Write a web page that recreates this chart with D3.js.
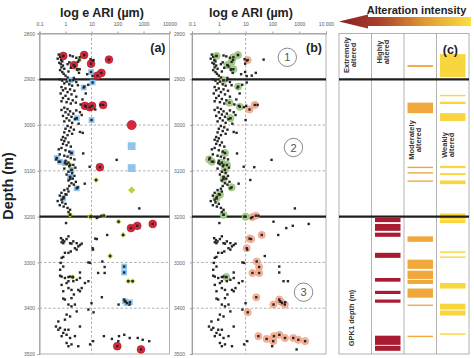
<!DOCTYPE html>
<html><head><meta charset="utf-8">
<script src="https://cdn.jsdelivr.net/npm/d3@7"></script>
<style>body{margin:0;background:#fff}svg{display:block}text{font-family:"Liberation Sans",Arial,sans-serif}</style>
</head><body><svg id="c" width="474" height="358"></svg>
<script>
// ---------- data ----------
const xTicks = [0.1, 1, 10, 100, 1000, 10000];
const xTickLabelsA = ["0.1", "1", "10", "100", "1000", "10000"];
const xTickLabelsB = ["0.1", "1", "10", "100", "1000", "10 000"];
const depthTicks = [2800, 2900, 3000, 3100, 3200, 3300, 3400, 3500];
const dashedDepths = [3000, 3100, 3300, 3400];
const boundaryDepths = [2900, 3200];
const dashedARI = 10;

// [depth (m), ARI (µm)]
const dots = [
[2846,0.55],[2851,0.62],[2855,0.5],[2858,0.68],[2861,0.75],[2864,0.58],[2867,0.66],[2870,0.8],[2874,0.7],[2877,0.9],[2880,0.62],[2884,0.75],[2888,0.85],[2892,1.0],[2896,1.2],[2848,1.5],[2850,1.9],[2853,2.6],[2856,9.2],[2859,11],[2863,1.4],[2867,1.2],[2872,2.3],[2875,1.6],[2879,2.8],[2883,1.3],[2886,3.3],[2889,6.8],[2893,11],[2897,2.1],
[2900,0.6],[2903,0.75],[2905,1.1],[2902,2.0],[2906,2.6],[2909,0.9],[2911,1.4],[2914,1.8],[2913,3.0],[2917,0.7],[2920,1.0],[2922,1.5],[2925,2.2],[2924,0.8],[2928,1.2],[2931,0.65],[2933,1.7],[2936,1.0],[2938,2.6],[2941,0.8],[2943,1.3],[2946,1.9],[2948,0.7],[2950,1.1],[2953,1.6],[2955,3.8],[2944,4.5],[2931,6.0],[2912,7.5],
[2962,0.9],[2965,1.2],[2967,0.7],[2970,1.5],[2972,1.0],[2975,2.0],[2977,1.3],[2980,0.8],[2982,1.7],[2985,1.1],[2987,2.3],[2990,1.4],[2992,0.9],[2995,1.8],[2997,3.2],[2972,3.6],[2978,4.2],[2968,2.6],
[3002,1.2],[3005,1.6],[3008,1.0],[3010,2.1],[3013,1.4],[3016,0.9],[3019,1.8],[3015,3.6],[3017,4.6],[3022,1.2],[3026,0.8],[3029,1.0],[3032,0.7],[3035,0.9],[3038,1.3],[3041,0.8],[3044,1.1],[3047,1.6],[3050,0.7],[3053,0.55],[3055,1.0],[3058,1.4],[3062,4.8],[3064,0.6],[3067,0.9],[3069,1.2],[3072,1.6],[3075,2.2],[3078,1.0],[3085,1.1],[3090,1.4],[3093,2.4],[3095,0.9],[3076,93],[3091,8.5],
[3102,1.3],[3105,1.8],[3108,1.1],[3111,2.2],[3114,1.5],[3117,1.9],[3121,1.3],[3124,2.5],[3127,1.7],[3130,2.1],[3133,1.4],[3139,1.2],[3142,0.9],[3145,1.3],[3148,0.7],[3151,1.0],[3154,0.6],[3157,0.85],[3163,0.7],[3166,0.5],[3169,0.75],[3172,1.0],[3175,0.6],[3178,0.85],[3181,1.2],[3185,1.5],[3190,1.3],[3182,690],[3128,5.5],[3203,16],
[3214,1.05],[3247,0.67],[3251,0.78],[3254,0.9],[3249,1.1],[3243,1.3],[3258,1.5],[3259,1.7],[3254,2.0],[3258,2.7],[3265,3.1],[3262,3.6],[3259,4.2],[3272,2.7],[3269,2.3],[3258,0.82],[3256,0.71],[3276,1.6],[3279,1.3],[3279,0.95],[3288,0.82],[3290,0.71],[3301,0.65],[3309,0.82],[3316,0.62],[3272,11.5],[3300,7.6],[3301,8.8],
[3329,0.62],[3331,0.71],[3334,0.95],[3332,1.3],[3331,1.5],[3322,3.6],[3349,0.71],[3345,1.1],[3341,1.3],[3341,2.0],[3338,2.7],[3334,3.6],[3345,5.6],[3341,7.6],[3363,0.82],[3356,1.3],[3360,1.7],[3360,3.1],[3356,4.2],[3363,3.6],[3370,2.1],[3378,1.7],[3381,0.95],[3379,0.82],[3392,1.3],[3396,1.7],[3392,2.3],[3389,10],
[3407,2.7],[3414,1.1],[3418,1.5],[3425,0.95],[3429,0.53],[3440,0.43],[3443,0.62],[3454,0.82],[3458,1.1],[3461,0.71],[3447,0.53],[3447,0.95],[3447,1.3],[3461,2.3],[3440,3.6],[3465,1.5],[3476,1.1],[3483,1.3],[3479,1.7],[3483,3.1],[3479,8.8],[3403,7.6],[3472,11.5]
];

// panel (a) highlights
const redA = [[2849,0.82],[2847,5.2],[2857,47],[2869,2.1],[2866,9.6],[2886,24],[2892,17],[2958,5.6],[2961,8.7],[2958,10.5],[2956,28],[3092,21],[3225,330],[3220,575],[3216,2260],[3483,98],[3490,800]];
const blueA = [[2884,9.6],[2902,1.5],[2907,11],[2918,5.0],[2985,2.7],[2989,10],[3061,1.7],[3072,0.46],[3080,0.62],[3083,0.95],[3098,1.7],[3113,1.5],[3138,2.7],[3160,0.82],[3309,180],[3322,180],[3385,190],[3389,230],[3387,300]];
const greenA = [[2858,3.4],[2878,2.9],[3087,1.5],[3120,15],[3196,1.5],[3200,9],[3198,30],[3211,110],[3240,165],[3286,52],[3332,1.9],[3341,260],[3341,380]];
const keyMarkersA = [["circle",3000,350],["square",3046,350],["square",3094,350],["diamond",3142,350]];

// panel (b) highlights
const greenB = [[2849,0.82],[2852,3.5],[2847,5.2],[2862,3.0],[2869,2.1],[2878,3.5],[2902,1.5],[2916,5.3],[2951,2.5],[2960,6.1],[2985,2.7],[3061,1.7],[3075,0.44],[3080,0.55],[3082,1.3],[3087,2.0],[3098,1.7],[3118,1.5],[3136,3.0],[3152,1.1],[3160,0.82],[3196,1.5],[3200,10],[3332,1.9]];
const orangeB = [[2858,12],[2966,14],[2956,22],[3201,18],[3198,24],[3248,14],[3249,16],[3240,40],[3269,11],[3298,26],[3310,32],[3323,18],[3323,32],[3376,25],[3381,180],[3386,210],[3392,290],[3392,110],[3409,12],[3461,30],[3467,61],[3472,107],[3461,114],[3458,182],[3465,295],[3465,600],[3469,930],[3472,1660]];
const zoneLabels = [["1",2852,360],["2",3049,610],["3",3365,1450]];

// panel (c)
const alterationClasses = ["Extremely altered", "Highly altered", "Moderately altered", "Weakly altered"];
const highlyBars = [[3203,3212],[3216,3231],[3235,3244],[3279,3290],[3334,3342],[3362,3369],[3381,3388],[3460,3480],[3482,3493]];
const moderateBars = [[2869,2873],[2951,2974],[3091,3094],[3103,3106],[3121,3124],[3243,3255],[3294,3314],[3318,3336],[3338,3347],[3357,3377],[3392,3395],[3460,3463]];
const weakBars = [[2845,2895],[2934,2937],[2949,2954],[2974,2991],[3089,3094],[3105,3109],[3121,3129],[3193,3206],[3207,3214],[3276,3279],[3287,3290],[3345,3357],[3390,3403],[3405,3416],[3455,3458]];

// ---------- drawing ----------
const FONT = '"Liberation Sans", Arial, sans-serif';
const svg = d3.select("#c");
const y = d3.scaleLinear().domain([2800, 3500]).range([33.5, 354]);

const defs = svg.append("defs");
const grad = defs.append("linearGradient").attr("id", "ag").attr("x1", "0").attr("x2", "1").attr("y1", "0").attr("y2", "0");
[["0", "#8a1d24"], ["0.3", "#a8402a"], ["0.65", "#e09a32"], ["1", "#fbde40"]].forEach(s => grad.append("stop").attr("offset", s[0]).attr("stop-color", s[1]));

const panels = [
  { x: d3.scaleLog().domain([0.1, 10000]).range([39.5, 169.5]), labels: xTickLabelsA, pad: 2.5, tag: "(a)" },
  { x: d3.scaleLog().domain([0.1, 10000]).range([192, 326]), labels: xTickLabelsB, pad: 5, tag: "(b)" }
];

panels.forEach((p, pi) => {
  const x = p.x, [x0, x1] = x.range();
  const g = svg.append("g");
  g.selectAll(null).data(dashedDepths).join("line")
    .attr("x1", x0).attr("x2", x1).attr("y1", d => y(d)).attr("y2", d => y(d))
    .attr("stroke", "#8c8c8c").attr("stroke-width", 0.7).attr("stroke-dasharray", "2.5,2");
  g.append("line").attr("x1", x(dashedARI)).attr("x2", x(dashedARI)).attr("y1", y(2800)).attr("y2", y(3500))
    .attr("stroke", "#8c8c8c").attr("stroke-width", 0.7).attr("stroke-dasharray", "2.5,2");
  g.append("rect").attr("x", x0).attr("y", y(2800)).attr("width", x1 - x0).attr("height", y(3500) - y(2800))
    .attr("fill", "none").attr("stroke", "#a0a0a0").attr("stroke-width", 0.8);

  const ax = g.append("g").attr("transform", `translate(0,${y(2800)})`)
    .call(d3.axisTop(x).tickValues(xTicks).tickFormat((d, i) => p.labels[i]).tickSize(2).tickPadding(5.5));
  ax.attr("font-size", 5).attr("font-family", FONT);
  ax.select(".domain").attr("stroke", "#a0a0a0");
  ax.selectAll(".tick line").attr("stroke", "#a0a0a0");
  ax.selectAll("text").attr("fill", "#555");

  const ay = g.append("g").attr("transform", `translate(${x0},0)`)
    .call(d3.axisLeft(y).tickValues(depthTicks).tickFormat(d3.format("d")).tickSize(2).tickPadding(p.pad));
  ay.attr("font-size", 5).attr("font-family", FONT);
  ay.select(".domain").attr("stroke", "#a0a0a0");
  ay.selectAll(".tick line").attr("stroke", "#a0a0a0");
  ay.selectAll("text").attr("fill", "#666");

  g.selectAll(null).data(boundaryDepths).join("line")
    .attr("x1", x0).attr("x2", x1).attr("y1", d => y(d)).attr("y2", d => y(d))
    .attr("stroke", "#1e1e1e").attr("stroke-width", 2.2);

  if (pi === 0) {
    g.selectAll(null).data(blueA).join("rect")
      .attr("x", d => x(d[1]) - 2.9).attr("y", d => y(d[0]) - 2.9).attr("width", 5.8).attr("height", 5.8)
      .attr("fill", "#8ec4ee");
    g.selectAll(null).data(redA).join("circle")
      .attr("cx", d => x(d[1])).attr("cy", d => y(d[0])).attr("r", 3.9)
      .attr("fill", "#d8283c").attr("stroke", "#a8162a").attr("stroke-width", 0.6);
    g.selectAll(null).data(greenA).join("path")
      .attr("d", d3.symbol(d3.symbolSquare, 17))
      .attr("transform", d => `translate(${x(d[1])},${y(d[0])}) rotate(45)`)
      .attr("fill", "#c0cf3c");
    keyMarkersA.forEach(k => {
      const cx = x(k[2]), cy = y(k[1]);
      if (k[0] === "circle") g.append("circle").attr("cx", cx).attr("cy", cy).attr("r", 4.6)
        .attr("fill", "#d8283c").attr("stroke", "#a8162a").attr("stroke-width", 0.6);
      if (k[0] === "square") g.append("rect").attr("x", cx - 3.9).attr("y", cy - 3.9).attr("width", 7.8).attr("height", 7.8).attr("fill", "#8ec4ee");
      if (k[0] === "diamond") g.append("path").attr("d", d3.symbol(d3.symbolSquare, 26))
        .attr("transform", `translate(${cx},${cy}) rotate(45)`).attr("fill", "#c0cf3c");
    });
  } else {
    g.selectAll(null).data(greenB).join("circle")
      .attr("cx", d => x(d[1])).attr("cy", d => y(d[0])).attr("r", 3.6)
      .attr("fill", "#a9d08e").attr("stroke", "#86b96a").attr("stroke-width", 0.6);
    g.selectAll(null).data(orangeB).join("circle")
      .attr("cx", d => x(d[1])).attr("cy", d => y(d[0])).attr("r", 3.6)
      .attr("fill", "#f6b49c").attr("stroke", "#ec9879").attr("stroke-width", 0.6);
    g.selectAll(null).data(zoneLabels).join("circle")
      .attr("cx", d => x(d[2])).attr("cy", d => y(d[1])).attr("r", 9.2)
      .attr("fill", "#fff").attr("stroke", "#7a7a7a").attr("stroke-width", 0.9);
    g.selectAll(null).data(zoneLabels).join("text")
      .attr("x", d => x(d[2])).attr("y", d => y(d[1]) + 4).attr("text-anchor", "middle")
      .attr("font-size", 11).attr("fill", "#555").text(d => d[0]);
  }

  const allPts = dots.concat(redA, blueA, greenA, greenB, orangeB);
  g.selectAll(null).data(allPts).join("rect")
    .attr("x", d => x(d[1]) - 1.2).attr("y", d => y(d[0]) - 1.2).attr("width", 2.4).attr("height", 2.4)
    .attr("fill", "#262626");

  g.append("text").attr("x", x1 - 4).attr("y", 51.5).attr("text-anchor", "end")
    .attr("font-size", 12.5).attr("font-weight", "bold").attr("fill", "#222").text(p.tag);
});

// titles
svg.append("text").attr("x", 102).attr("y", 16.5).attr("text-anchor", "middle")
  .attr("font-size", 12.5).attr("font-weight", "bold").attr("fill", "#222").text("log e ARI (µm)");
svg.append("text").attr("x", 251).attr("y", 16.5).attr("text-anchor", "middle")
  .attr("font-size", 12.5).attr("font-weight", "bold").attr("fill", "#222").text("log e ARI (µm)");
svg.append("text").attr("transform", "translate(12.5,186) rotate(-90)").attr("text-anchor", "middle")
  .attr("font-size", 14.5).attr("font-weight", "bold").attr("fill", "#222").text("Depth (m)");

// arrow
svg.append("path").attr("d", "M339,21.5 L368,14.5 L368,17 L471,17 L471,26 L368,26 L368,28.5 Z").attr("fill", "url(#ag)");
svg.append("text").attr("x", 416.5).attr("y", 13.5).attr("text-anchor", "middle")
  .attr("font-size", 11).attr("font-weight", "bold").attr("fill", "#222").text("Alteration intensity");

// panel (c)
const band = d3.scaleBand().domain(alterationClasses).range([339, 469]);
const gc = svg.append("g");
gc.append("rect").attr("x", 339).attr("y", y(2800)).attr("width", 130).attr("height", y(3500) - y(2800))
  .attr("fill", "none").attr("stroke", "#a0a0a0").attr("stroke-width", 0.8);
gc.selectAll(null).data(alterationClasses.slice(1)).join("line")
  .attr("x1", d => band(d)).attr("x2", d => band(d)).attr("y1", y(2800)).attr("y2", y(3500))
  .attr("stroke", "#a0a0a0").attr("stroke-width", 0.8);

const barSets = [["Highly altered", highlyBars, "#a81b30"], ["Moderately altered", moderateBars, "#f0a83c"], ["Weakly altered", weakBars, "#fad63e"]];
barSets.forEach(([cls, bars, col]) => {
  gc.selectAll(null).data(bars).join("rect")
    .attr("x", band(cls) + 3.5).attr("width", band.bandwidth() - 7)
    .attr("y", d => y(d[0])).attr("height", d => Math.max(1.2, y(d[1]) - y(d[0])))
    .attr("fill", col);
});
gc.selectAll(null).data(boundaryDepths).join("line")
  .attr("x1", 339).attr("x2", 469).attr("y1", d => y(d)).attr("y2", d => y(d))
  .attr("stroke", "#1e1e1e").attr("stroke-width", 2.2);

function vlabel(lines, cx, cy, fs) {
  const t = gc.append("text").attr("transform", `translate(${cx},${cy}) rotate(-90)`)
    .attr("text-anchor", "middle").attr("font-size", fs).attr("font-weight", "bold").attr("fill", "#333");
  const n = lines.length;
  lines.forEach((l, i) => t.append("tspan").attr("x", 0).attr("y", (i - (n - 1) / 2) * fs * 0.95 + fs * 0.35).text(l));
}
vlabel(["Extremely", "altered"], band("Extremely altered") + band.bandwidth() / 2 - 5, 55, 7.5);
vlabel(["Highly", "altered"], band("Highly altered") + band.bandwidth() / 2 - 5, 52, 7.5);
vlabel(["Moderately", "altered"], band("Moderately altered") + band.bandwidth() / 2 - 5, 140, 7.5);
vlabel(["Weakly", "altered"], band("Weakly altered") + band.bandwidth() / 2 - 5, 145, 7.5);
vlabel(["GPK1 depth (m)"], band("Extremely altered") + band.bandwidth() / 2 - 4, 318, 7.5);
gc.append("text").attr("x", 458).attr("y", 54).attr("text-anchor", "end")
  .attr("font-size", 12.5).attr("font-weight", "bold").attr("fill", "#222").text("(c)");
</script></body></html>
